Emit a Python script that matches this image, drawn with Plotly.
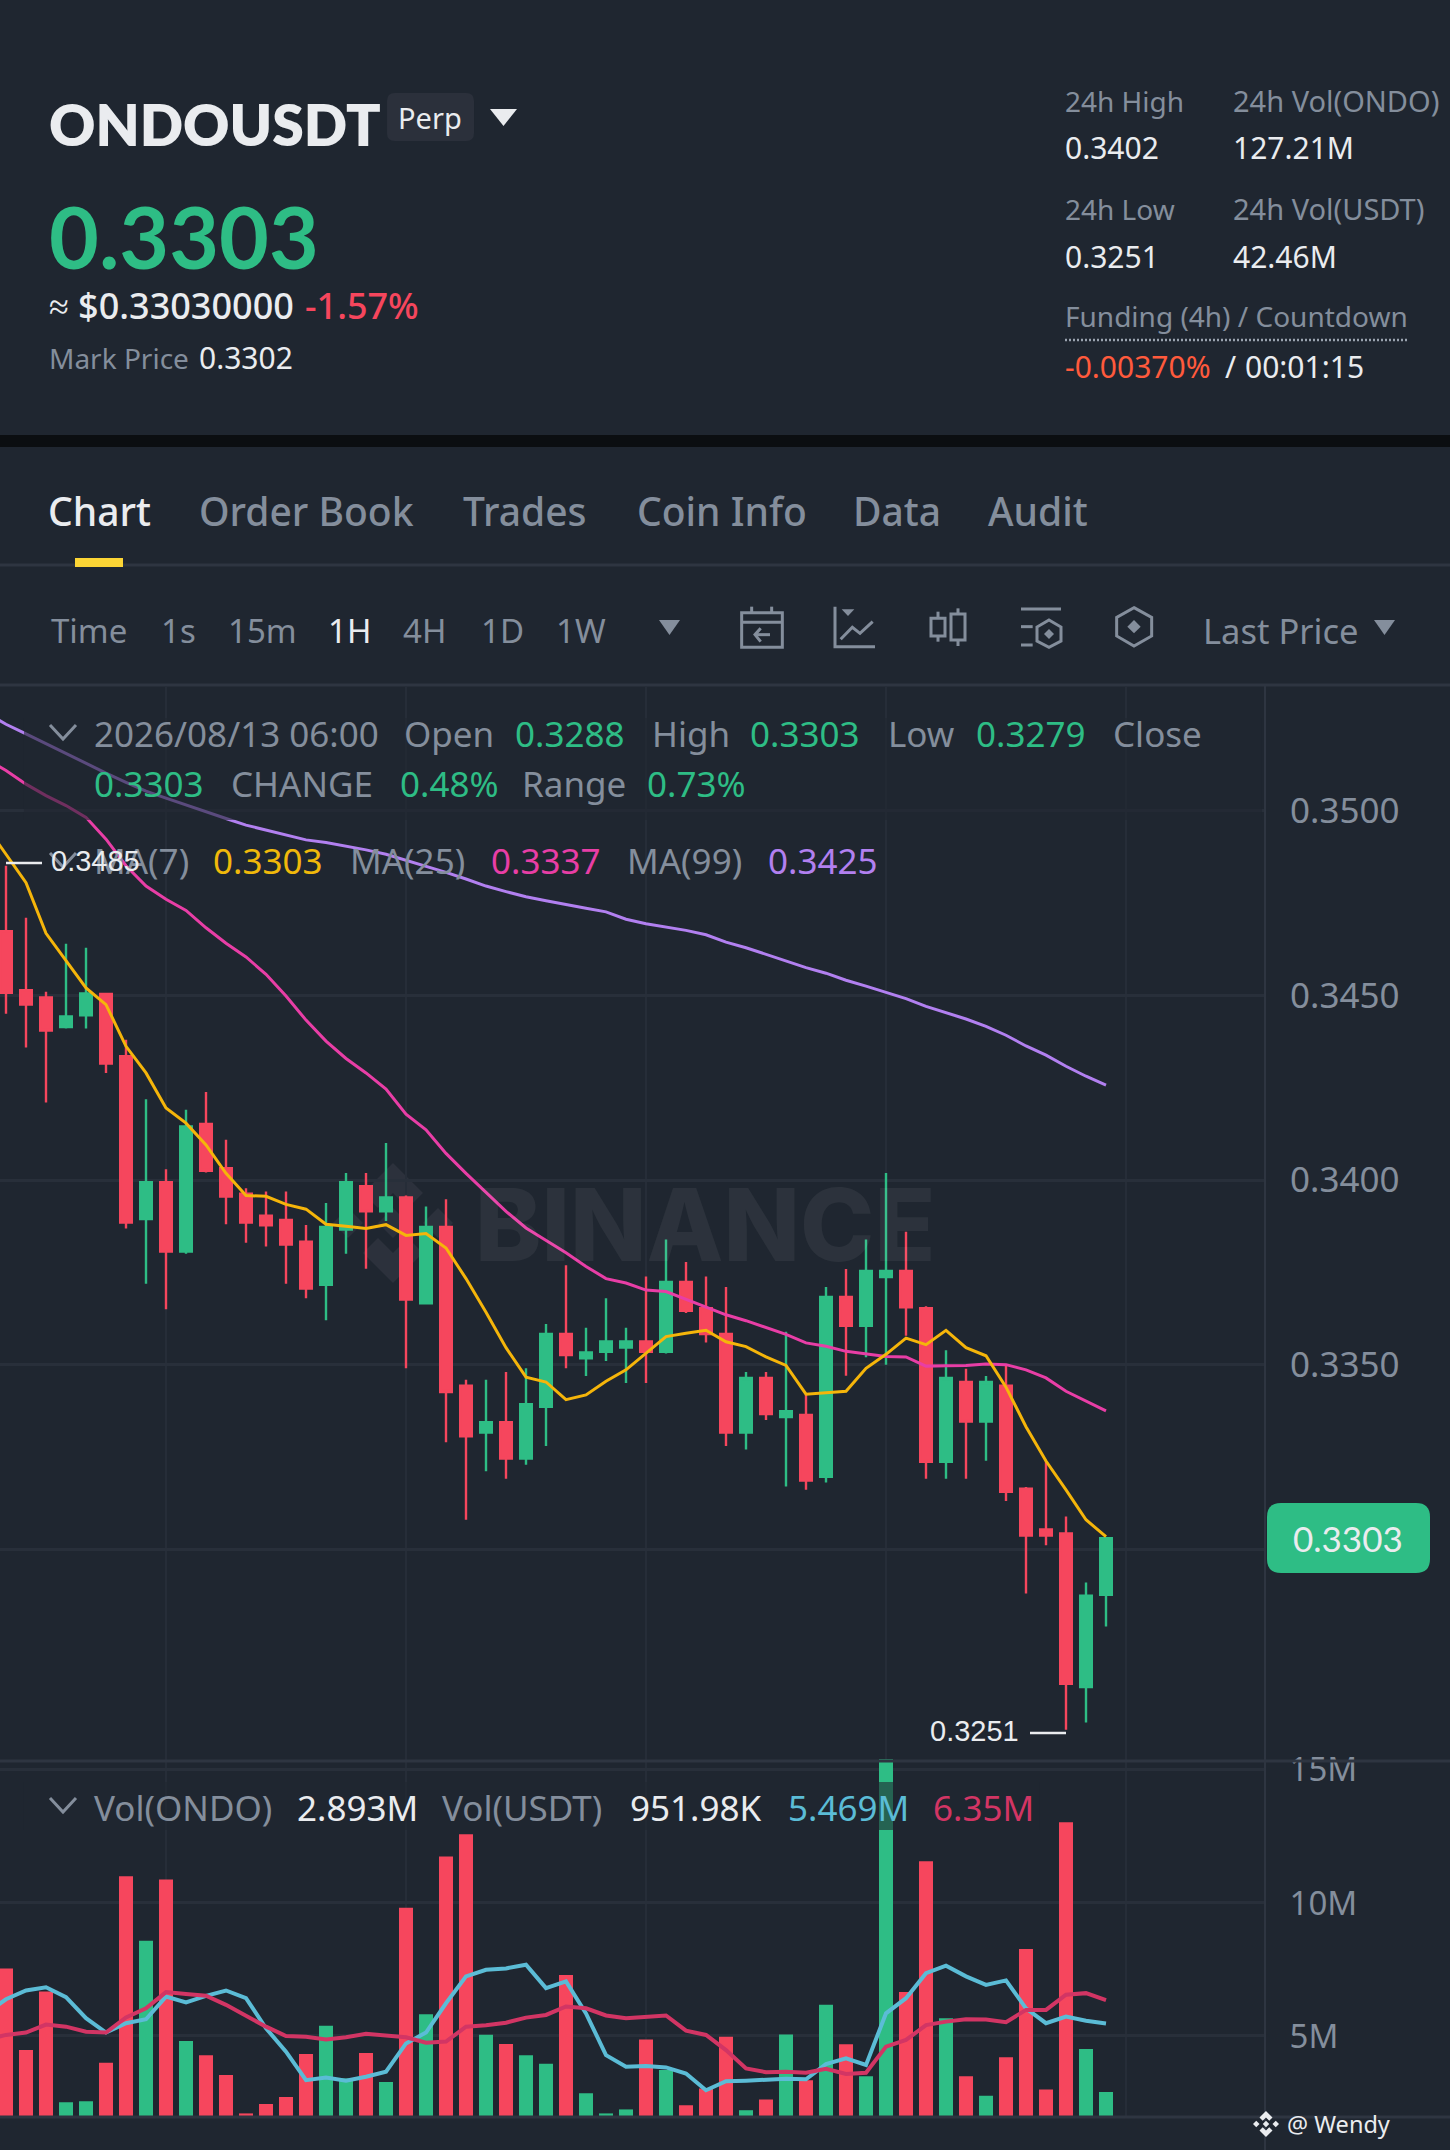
import plotly.graph_objects as go

W = 1450
H = 2150

# 1h candles, oldest first, last one is 2026/08/13 06:00
opens = [0.34674, 0.34514, 0.34494, 0.34414, 0.34446, 0.34504, 0.34335, 0.33894, 0.33994, 0.33806,
         0.34152, 0.34032, 0.33963, 0.33903, 0.33892, 0.33833, 0.33716, 0.33866, 0.33983, 0.33915,
         0.33953, 0.33666, 0.33873, 0.33443, 0.33316, 0.33344, 0.33246, 0.33386, 0.33583, 0.33517,
         0.33535, 0.33546, 0.33563, 0.33535, 0.33724, 0.33653, 0.33583, 0.33316, 0.33464, 0.33358,
         0.33364, 0.33196, 0.33683, 0.33605, 0.33737, 0.33754, 0.33653, 0.33237, 0.33453, 0.33346,
         0.33443, 0.33164, 0.33054, 0.33043, 0.32627, 0.32877]
highs = [0.34851, 0.34710, 0.34510, 0.34640, 0.34629, 0.34504, 0.34380, 0.34219, 0.34029, 0.34190,
         0.34238, 0.34109, 0.33978, 0.33969, 0.33969, 0.33878, 0.33938, 0.34019, 0.34019, 0.34100,
         0.33958, 0.33928, 0.33948, 0.33459, 0.33459, 0.33480, 0.33490, 0.33610, 0.33769, 0.33600,
         0.33680, 0.33600, 0.33739, 0.33839, 0.33778, 0.33739, 0.33710, 0.33480, 0.33480, 0.33589,
         0.33420, 0.33710, 0.33759, 0.33839, 0.34019, 0.33860, 0.33658, 0.33539, 0.33489, 0.33469,
         0.33497, 0.33169, 0.33239, 0.33089, 0.32910, 0.33030]
lows = [0.34450, 0.34359, 0.34210, 0.34410, 0.34410, 0.34290, 0.33869, 0.33719, 0.33650, 0.33800,
        0.34020, 0.33880, 0.33830, 0.33820, 0.33719, 0.33680, 0.33620, 0.33800, 0.33760, 0.33889,
        0.33490, 0.33666, 0.33290, 0.33080, 0.33211, 0.33191, 0.33229, 0.33280, 0.33490, 0.33469,
        0.33510, 0.33450, 0.33450, 0.33530, 0.33640, 0.33560, 0.33280, 0.33270, 0.33350, 0.33170,
        0.33161, 0.33181, 0.33470, 0.33520, 0.33500, 0.33578, 0.33191, 0.33191, 0.33191, 0.33240,
        0.33131, 0.32880, 0.33011, 0.32511, 0.32531, 0.32791]
closes = [0.34507, 0.34475, 0.34405, 0.34443, 0.34505, 0.34315, 0.33885, 0.33994, 0.33806, 0.34145,
          0.34025, 0.33955, 0.33885, 0.33877, 0.33825, 0.33706, 0.33873, 0.33994, 0.33915, 0.33953,
          0.33676, 0.33873, 0.33426, 0.33306, 0.33344, 0.33246, 0.33393, 0.33583, 0.33526, 0.33533,
          0.33563, 0.33563, 0.33535, 0.33724, 0.33646, 0.33583, 0.33316, 0.33464, 0.33366, 0.33374,
          0.33186, 0.33683, 0.33605, 0.33754, 0.33754, 0.33655, 0.33237, 0.33464, 0.33346, 0.33453,
          0.33156, 0.33037, 0.33037, 0.32636, 0.32874, 0.33030]

# moving averages start one candle earlier, they run off the left edge
ma7 = [0.34959, 0.34882, 0.34805, 0.34668, 0.34593, 0.34520, 0.34475, 0.34362, 0.34290, 0.34195,
       0.34154, 0.34095, 0.34018, 0.33958, 0.33956, 0.33934, 0.33921, 0.33880, 0.33875, 0.33869,
       0.33879, 0.33850, 0.33855, 0.33816, 0.33733, 0.33642, 0.33546, 0.33466, 0.33453, 0.33405,
       0.33418, 0.33455, 0.33486, 0.33530, 0.33576, 0.33585, 0.33593, 0.33562, 0.33549, 0.33521,
       0.33498, 0.33420, 0.33425, 0.33428, 0.33490, 0.33528, 0.33572, 0.33554, 0.33593, 0.33546,
       0.33524, 0.33439, 0.33332, 0.33239, 0.33161, 0.33080, 0.33034]
ma25 = [0.35140, 0.35109, 0.35072, 0.35041, 0.35014, 0.34982, 0.34923, 0.34851, 0.34796, 0.34760,
        0.34730, 0.34683, 0.34641, 0.34604, 0.34557, 0.34498, 0.34433, 0.34376, 0.34329, 0.34290,
        0.34246, 0.34178, 0.34136, 0.34072, 0.34018, 0.33966, 0.33915, 0.33870, 0.33837, 0.33803,
        0.33766, 0.33733, 0.33721, 0.33702, 0.33698, 0.33677, 0.33658, 0.33635, 0.33619, 0.33600,
        0.33582, 0.33559, 0.33550, 0.33536, 0.33529, 0.33522, 0.33521, 0.33496, 0.33497, 0.33498,
        0.33502, 0.33500, 0.33486, 0.33464, 0.33428, 0.33401, 0.33375]
ma99 = [0.35267, 0.35234, 0.35208, 0.35181, 0.35154, 0.35129, 0.35102, 0.35077, 0.35053, 0.35034,
        0.35015, 0.34997, 0.34979, 0.34961, 0.34948, 0.34935, 0.34921, 0.34914, 0.34905, 0.34894,
        0.34882, 0.34866, 0.34851, 0.34833, 0.34815, 0.34796, 0.34781, 0.34767, 0.34756, 0.34747,
        0.34736, 0.34726, 0.34706, 0.34694, 0.34685, 0.34676, 0.34664, 0.34644, 0.34629, 0.34611,
        0.34593, 0.34575, 0.34560, 0.34541, 0.34525, 0.34508, 0.34491, 0.34470, 0.34454, 0.34436,
        0.34416, 0.34392, 0.34363, 0.34338, 0.34308, 0.34281, 0.34257]

# volume in millions of ONDO
volumes = [7.54, 4.47, 6.67, 2.51, 2.55, 3.99, 11.0, 8.58, 10.88, 4.81,
           4.28, 3.53, 2.09, 2.44, 2.71, 4.32, 5.38, 3.40, 4.36, 3.27,
           9.82, 5.82, 11.75, 12.58, 5.05, 4.70, 4.28, 3.96, 7.29, 2.85,
           2.09, 2.24, 4.87, 3.72, 2.40, 3.03, 4.97, 2.21, 2.61, 5.06,
           3.34, 6.17, 4.69, 3.49, 15.4, 6.65, 11.57, 5.67, 3.49, 2.75,
           4.20, 8.27, 2.99, 13.03, 4.51, 2.893]
vol_ma5 = [5.85, 6.38, 6.71, 6.83, 6.46, 5.67, 5.13, 5.48, 5.63, 6.48,
           6.26, 6.51, 6.71, 6.42, 5.29, 4.41, 3.34, 3.44, 3.32, 3.47,
           3.66, 4.72, 5.13, 6.23, 7.24, 7.49, 7.54, 7.68, 6.80, 7.05,
           5.85, 4.28, 3.84, 3.87, 3.82, 3.59, 2.96, 3.30, 3.32, 3.37,
           3.39, 3.37, 3.94, 4.16, 3.91, 5.85, 6.42, 7.36, 7.64, 7.24,
           6.92, 7.09, 6.04, 5.48, 5.73, 5.57, 5.469]
vol_ma10 = [4.85, 5.04, 5.13, 5.43, 5.35, 5.16, 5.13, 5.70, 6.04, 6.65,
            6.58, 6.51, 6.17, 5.77, 5.35, 5.00, 4.97, 4.87, 4.95, 5.08,
            5.03, 4.95, 4.75, 4.79, 5.35, 5.40, 5.50, 5.69, 5.79, 6.11,
            6.04, 5.77, 5.67, 5.73, 5.77, 5.20, 5.04, 4.47, 3.78, 3.64,
            3.66, 3.62, 3.77, 3.57, 3.62, 4.60, 4.85, 5.41, 5.54, 5.63,
            5.62, 5.52, 5.98, 5.98, 6.55, 6.61, 6.35]

price_ticks = [0.33, 0.335, 0.34, 0.345, 0.35]
price_tick_labels = ["", "0.3350", "0.3400", "0.3450", "0.3500"]
vol_ticks = [5, 10, 15]
vol_tick_labels = ["5M", "10M", "15M"]
time_grid = [8, 20, 32, 44, 56]

tabs = [("Chart", 47), ("Order Book", 198), ("Trades", 462), ("Coin Info", 636), ("Data", 852), ("Audit", 987)]
intervals = [("Time", 50), ("1s", 160), ("15m", 227), ("1H", 327), ("4H", 402), ("1D", 480), ("1W", 555)]

BG = "#1f2630"
GREEN = "#2ebd85"
RED = "#f6465d"
GREY = "#848e9c"
WHITE = "#eaecef"
LINE = "#2e3541"
FONT = "Noto Sans"
TITLE_FONT = "Lato"
CANVAS_FONT = "Liberation Sans"

candle_x = list(range(len(closes)))
ma_x = list(range(-1, len(closes)))
vol_colors = [GREEN if c >= o else RED for o, c in zip(opens, closes)]


def fx(x):
    return x / W


def fy(y):
    return 1 - y / H


def path(points, close=False):
    d = "M " + " L ".join(f"{fx(x):.5f},{fy(y):.5f}" for x, y in points)
    return d + (" Z" if close else "")


def rrect(x0, y0, x1, y1, r):
    return (
        f"M {fx(x0 + r):.5f},{fy(y0):.5f} L {fx(x1 - r):.5f},{fy(y0):.5f} "
        f"Q {fx(x1):.5f},{fy(y0):.5f} {fx(x1):.5f},{fy(y0 + r):.5f} "
        f"L {fx(x1):.5f},{fy(y1 - r):.5f} Q {fx(x1):.5f},{fy(y1):.5f} {fx(x1 - r):.5f},{fy(y1):.5f} "
        f"L {fx(x0 + r):.5f},{fy(y1):.5f} Q {fx(x0):.5f},{fy(y1):.5f} {fx(x0):.5f},{fy(y1 - r):.5f} "
        f"L {fx(x0):.5f},{fy(y0 + r):.5f} Q {fx(x0):.5f},{fy(y0):.5f} {fx(x0 + r):.5f},{fy(y0):.5f} Z"
    )


shapes = []


def add_path(d, fill=None, line=None, width=0, layer="above"):
    shapes.append(
        dict(
            type="path",
            xref="paper",
            yref="paper",
            path=d,
            fillcolor=fill if fill else "rgba(0,0,0,0)",
            line=dict(color=line if line else "rgba(0,0,0,0)", width=width),
            layer=layer,
        )
    )


def add_line(x0, y0, x1, y1, color=LINE, width=3, dash=None):
    shapes.append(
        dict(
            type="line",
            xref="paper",
            yref="paper",
            x0=fx(x0),
            y0=fy(y0),
            x1=fx(x1),
            y1=fy(y1),
            line=dict(color=color, width=width, dash=dash),
            layer="above",
        )
    )


def binance_logo(cx, cy, r, color, layer="above"):
    parts = [
        [(0, -0.25), (0.25, 0), (0, 0.25), (-0.25, 0)],
        [(-0.75, -0.25), (-0.5, 0), (-0.75, 0.25), (-1, 0)],
        [(0.75, -0.25), (1, 0), (0.75, 0.25), (0.5, 0)],
        [(0, -1), (0.5, -0.5), (0.25, -0.25), (0, -0.5), (-0.25, -0.25), (-0.5, -0.5)],
        [(0, 1), (0.5, 0.5), (0.25, 0.25), (0, 0.5), (-0.25, 0.25), (-0.5, 0.5)],
    ]
    for part in parts:
        add_path(path([(cx + px * r, cy + py * r) for px, py in part], True), fill=color, layer=layer)


def icon(points, close=False, fill=None, width=3):
    pts = [(720 + x / 3, 590 + y / 3) for x, y in points]
    add_path(path(pts, close), fill=fill, line=None if fill else GREY, width=0 if fill else width)


annotations = []


def label(text, x, y, color=GREY, size=31, weight=400, anchor="left", family=FONT):
    annotations.append(
        dict(
            xref="paper",
            yref="paper",
            x=fx(x),
            y=fy(y),
            text=text,
            showarrow=False,
            xanchor=anchor,
            yanchor="middle",
            borderpad=0,
            font=dict(family=family, size=size, color=color, weight=weight),
        )
    )


fig = go.Figure()

fig.add_trace(
    go.Candlestick(
        x=candle_x,
        open=opens,
        high=highs,
        low=lows,
        close=closes,
        increasing=dict(line=dict(color=GREEN, width=2.4), fillcolor=GREEN),
        decreasing=dict(line=dict(color=RED, width=2.4), fillcolor=RED),
        whiskerwidth=0,
        xaxis="x",
        yaxis="y",
    )
)
for values, color in [(ma99, "#b280f0"), (ma25, "#e83ea6"), (ma7, "#f5b50a")]:
    fig.add_trace(go.Scatter(x=ma_x, y=values, mode="lines", line=dict(color=color, width=3), xaxis="x", yaxis="y"))

fig.add_trace(go.Bar(x=candle_x, y=volumes, marker=dict(color=vol_colors, line=dict(width=0)), xaxis="x2", yaxis="y2"))
fig.add_trace(go.Scatter(x=ma_x, y=vol_ma5, mode="lines", line=dict(color="#5bbcd6", width=4), xaxis="x2", yaxis="y2"))
fig.add_trace(go.Scatter(x=ma_x, y=vol_ma10, mode="lines", line=dict(color="#d23564", width=4), xaxis="x2", yaxis="y2"))

# header
add_line(0, 441, W, 441, color="#0b0e11", width=12)
label("ONDOUSDT", 48, 124, WHITE, 57, 800, family=TITLE_FONT)
add_path(rrect(387, 93, 474, 141, 8), fill="#2b303b")
label("Perp", 430, 118, WHITE, 29, anchor="center")
add_path(path([(490, 109), (517, 109), (503.5, 126)], True), fill=WHITE)
label("0.3303", 48, 235, GREEN, 86, 700, family=TITLE_FONT)
label("≈ $0.33030000", 48, 306, WHITE, 36, 500)
label("-1.57%", 304, 306, RED, 36, 500)
label("Mark Price", 48, 358, GREY, 28)
label("0.3302", 198, 358, WHITE, 30)

label("24h High", 1064, 101, GREY, 28)
label("24h Vol(ONDO)", 1232, 101, GREY, 29)
label("0.3402", 1064, 147, WHITE, 30)
label("127.21M", 1232, 147, WHITE, 30)
label("24h Low", 1064, 209, GREY, 28)
label("24h Vol(USDT)", 1232, 209, GREY, 29)
label("0.3251", 1064, 256, WHITE, 30)
label("42.46M", 1232, 256, WHITE, 30)
label("Funding (4h) / Countdown", 1064, 316, GREY, 28)
add_line(1065, 340, 1409, 340, color="#9aa3af", width=2.5, dash="2px,2px")
label("-0.00370%", 1064, 367, "#ff5a3c", 30)
label("/", 1224, 367, WHITE, 30)
label("00:01:15", 1244, 367, WHITE, 30)

# tabs
for i, (name, x) in enumerate(tabs):
    label(name, x, 511, WHITE if i == 0 else GREY, 39, 500)
add_line(0, 565, W, 565)
add_path(path([(75, 558), (123, 558), (123, 567), (75, 567)], True), fill="#fcd535")

# interval row
for name, x in intervals:
    label(name, x, 630, WHITE if name == "1H" else GREY, 33)
add_path(path([(659, 620), (680, 620), (669.5, 635)], True), fill=GREY)
label("Last Price", 1202, 630, GREY, 34.5)
add_path(path([(1374, 620), (1395, 620), (1384.5, 635)], True), fill=GREY)
add_line(0, 685, W, 685)

icon([(65, 68), (187, 68), (187, 172), (65, 172)], True)
icon([(65, 97), (187, 97)])
icon([(95, 50), (95, 68)])
icon([(155, 50), (155, 68)])
icon([(150, 134), (105, 134)])
icon([(122, 115), (105, 134), (122, 155)])
icon([(345, 50), (345, 170), (465, 170)])
icon([(362, 148), (397, 112), (420, 130), (458, 95)])
icon([(365, 58), (403, 58), (384, 78)], True, fill=GREY)
icon([(633, 85), (675, 85), (675, 138), (633, 138)], True)
icon([(654, 65), (654, 85)])
icon([(654, 138), (654, 155)])
icon([(693, 72), (735, 72), (735, 150), (693, 150)], True)
icon([(714, 55), (714, 72)])
icon([(714, 150), (714, 168)])
icon([(903, 57), (1023, 57)])
icon([(903, 110), (938, 110)])
icon([(903, 165), (938, 165)])
icon([(987, 90), (1023, 111), (1023, 153), (987, 172), (951, 153), (951, 111)], True)
icon([(987, 117), (1002, 132), (987, 147), (972, 132)], True, fill=GREY)
icon([(1242, 53), (1295, 82), (1295, 138), (1242, 168), (1190, 138), (1190, 82)], True)
icon([(1242, 90), (1262, 110), (1242, 130), (1222, 110)], True, fill=GREY)

# watermark, drawn faint so the candles stay readable through it
binance_logo(393, 1223, 60, "#2c313c", layer="below")
label("BINANCE", 474, 1224, "rgba(255,255,255,0.06)", 100, 800, family="Inter")

# legend backings dim whatever runs behind the text
add_path(path([(24, 718), (1262, 718), (1262, 820), (24, 820)], True), fill="rgba(31,38,48,0.6)")
add_path(path([(24, 1782), (1040, 1782), (1040, 1830), (24, 1830)], True), fill="rgba(31,38,48,0.6)")

for top in (725, 853, 1798):
    add_path(path([(50, top), (63, top + 14), (76, top)]), line=GREY, width=3)

rows = [
    (734, [("2026/08/13 06:00", 93, GREY), ("Open", 403, GREY), ("0.3288", 514, GREEN), ("High", 651, GREY),
           ("0.3303", 749, GREEN), ("Low", 887, GREY), ("0.3279", 975, GREEN), ("Close", 1112, GREY)]),
    (783, [("0.3303", 93, GREEN), ("CHANGE", 230, GREY), ("0.48%", 399, GREEN), ("Range", 521, GREY), ("0.73%", 646, GREEN)]),
    (860, [("MA(7)", 93, GREY), ("0.3303", 212, "#f0b90b"), ("MA(25)", 349, GREY), ("0.3337", 490, "#e83ea6"),
           ("MA(99)", 626, GREY), ("0.3425", 767, "#b280f0")]),
    (1807, [("Vol(ONDO)", 93, GREY), ("2.893M", 296, WHITE), ("Vol(USDT)", 441, GREY), ("951.98K", 629, WHITE),
            ("5.469M", 787, "#5bbcd6"), ("6.35M", 932, "#d23564")]),
]
for y, items in rows:
    for text, x, color in items:
        label(text, x, y, color, 35)

# highest and lowest markers on the price pane
add_line(6, 863, 42, 863, color=WHITE, width=2.5)
label("0.3485", 50, 861, WHITE, 29, family=CANVAS_FONT)
label("0.3251", 929, 1731, WHITE, 29, family=CANVAS_FONT)
add_line(1030, 1733, 1066, 1733, color=WHITE, width=2.5)

# last price tag
add_path(rrect(1267, 1503, 1430, 1573, 14), fill=GREEN)
label("0.3303", 1348, 1538, WHITE, 35, anchor="center", family=TITLE_FONT)

# pane borders
add_line(1265, 685, 1265, H, width=2)
add_line(0, 1761, W, 1761)
add_line(0, 2117, W, 2117)

binance_logo(1266, 2124, 13, WHITE)
label("@ Wendy", 1286, 2124, WHITE, 23.5)

x_axis = dict(
    range=[-0.3, 62.95],
    domain=[0, 1265 / W],
    tickvals=time_grid,
    showticklabels=False,
    showgrid=True,
    gridcolor="#262d38",
    gridwidth=2,
    zeroline=False,
    showline=False,
    automargin=False,
    rangeslider=dict(visible=False),
)

fig.update_layout(
    width=W,
    height=H,
    margin=dict(l=0, r=0, t=0, b=0),
    paper_bgcolor=BG,
    plot_bgcolor=BG,
    showlegend=False,
    hovermode=False,
    bargap=0.3,
    boxgap=0.42,
    boxgroupgap=0,
    xaxis=dict(x_axis, anchor="y"),
    xaxis2=dict(x_axis, anchor="y2"),
    yaxis=dict(
        range=[0.32424, 0.35335],
        domain=[fy(1762), fy(687)],
        side="right",
        tickvals=price_ticks,
        ticktext=price_tick_labels,
        ticks="outside",
        ticklen=17,
        tickcolor="rgba(0,0,0,0)",
        tickfont=dict(family=FONT, size=35, color=GREY),
        gridcolor="#282f3a",
        gridwidth=2.5,
        zeroline=False,
        automargin=False,
        anchor="x",
    ),
    yaxis2=dict(
        range=[1.955, 15.41],
        domain=[fy(2117), fy(1759)],
        side="right",
        tickvals=vol_ticks,
        ticktext=vol_tick_labels,
        ticks="outside",
        ticklen=17,
        tickcolor="rgba(0,0,0,0)",
        tickfont=dict(family=FONT, size=33, color=GREY),
        gridcolor="#282f3a",
        gridwidth=2.5,
        zeroline=False,
        automargin=False,
        anchor="x2",
    ),
    shapes=shapes,
    annotations=annotations,
)

# page body has a default 8px margin that would push the figure off the window
fig.write_html("out.html", post_script="document.body.style.margin='0';", config={"displayModeBar": False})
